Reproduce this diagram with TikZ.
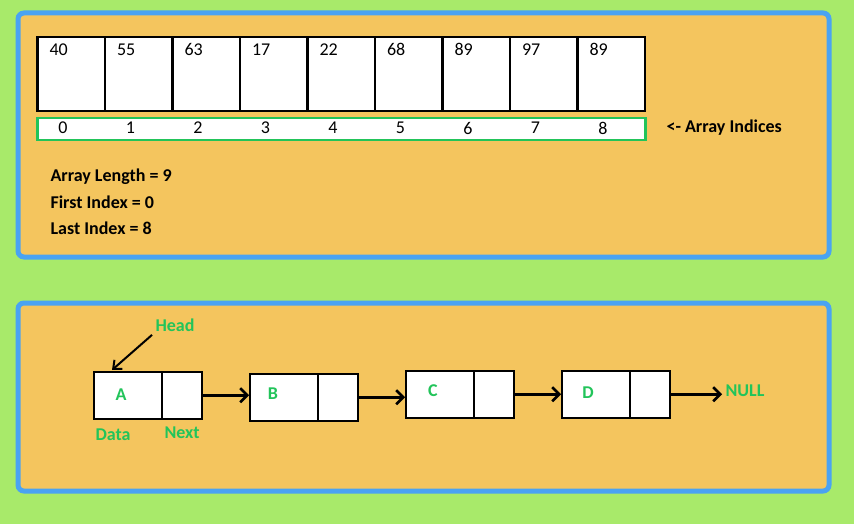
\documentclass[tikz,border=0pt]{standalone}
\usepackage{fontspec}
\usetikzlibrary{arrows.meta}
\setmainfont{Carlito}
\definecolor{bg}{HTML}{A8EA6A}
\definecolor{panel}{HTML}{F4C55E}
\definecolor{pborder}{HTML}{4AA3F2}
\definecolor{gtext}{HTML}{22C45A}
\begin{document}
\begin{tikzpicture}[x=1pt,y=-1pt,
  panelbox/.style={draw=pborder,line width=5pt,fill=panel,rounded corners=6pt},
  cellbox/.style={draw=black,line width=2.5pt,fill=white,minimum width=67.5pt,minimum height=74pt,inner sep=0pt,anchor=north west},
  val/.style={font=\fontsize{18}{18}\selectfont,anchor=north west},
  idx/.style={font=\fontsize{18}{18}\selectfont},
  info/.style={font=\bfseries\fontsize{18}{18}\selectfont,anchor=west},
  llbox/.style={draw=black,line width=1.5pt,fill=white,minimum width=108pt,minimum height=47pt,inner sep=0pt,anchor=north west},
  gl/.style={text=gtext,font=\bfseries\fontsize{18}{18}\selectfont},
  arr/.style={-{Straight Barb[length=7pt,width=14pt]},line width=2.5pt}]
\useasboundingbox (0,0) rectangle (854,524);
\fill[bg] (0,0) rectangle (854,524);
\draw[panelbox] (18,13) rectangle (829,257);
\draw[panelbox] (18,303) rectangle (829,491);
% array
\foreach \v [count=\i from 0] in {40,55,63,17,22,68,89,97,89}{
  \node[cellbox] (c\i) at ({36+67.5*\i},36) {};
  \node[val] (v\i) at ({46+67.5*\i},40) {\v};
  \node[idx] (i\i) at ({63+67.5*\i},128) {\i};
}
\node[draw=gtext,line width=2.5pt,fill=white,minimum width=608pt,minimum height=22pt,inner sep=0pt,anchor=north west] (bar) at (36,117) {};
\foreach \i in {0,...,8}{\node[idx] at ({63+67.5*\i},128) {\i};}
\node[info,anchor=west] (ai) at (663,128) {<- Array Indices};
\node[info] (len) at (47,177) {Array Length = 9};
\node[info] (fi) at (47,202) {First Index = 0};
\node[info] (li) at (47,228) {Last Index = 8};
% linked list
\node[llbox] (A) at (93,371) {};
\node[llbox] (B) at (249,373) {};
\node[llbox] (C) at (405,370) {};
\node[llbox] (D) at (561,370) {};
\draw[line width=1.5pt] (162,371) -- (162,418);
\draw[line width=1.5pt] (318,373) -- (318,420);
\draw[line width=1.5pt] (474,370) -- (474,417);
\draw[line width=1.5pt] (630,370) -- (630,417);
\node[gl] (la) at (121,395) {A};
\node[gl] (lb) at (273,394) {B};
\node[gl] (lc) at (433,391) {C};
\node[gl] (ld) at (588,393) {D};
\draw[arr] (A.east) -- (A.east -| B.west);
\draw[arr] (B.east) -- (B.east -| C.west);
\draw[arr] (C.east) -- (C.east -| D.west);
\node[gl,anchor=west] (null) at (722,391) {NULL};
\draw[arr] (D.east) -- (D.east -| null.west);
\node[gl,anchor=west] (head) at (152,325) {Head};
\coordinate (ht) at (112,370);
\draw[-{Straight Barb[length=7pt,width=12pt]},line width=2pt] (head.south west) -- (ht);
\node[gl,anchor=west] (data) at (92,435) {Data};
\node[gl,anchor=west] (next) at (161,433) {Next};
\end{tikzpicture}
\end{document}
